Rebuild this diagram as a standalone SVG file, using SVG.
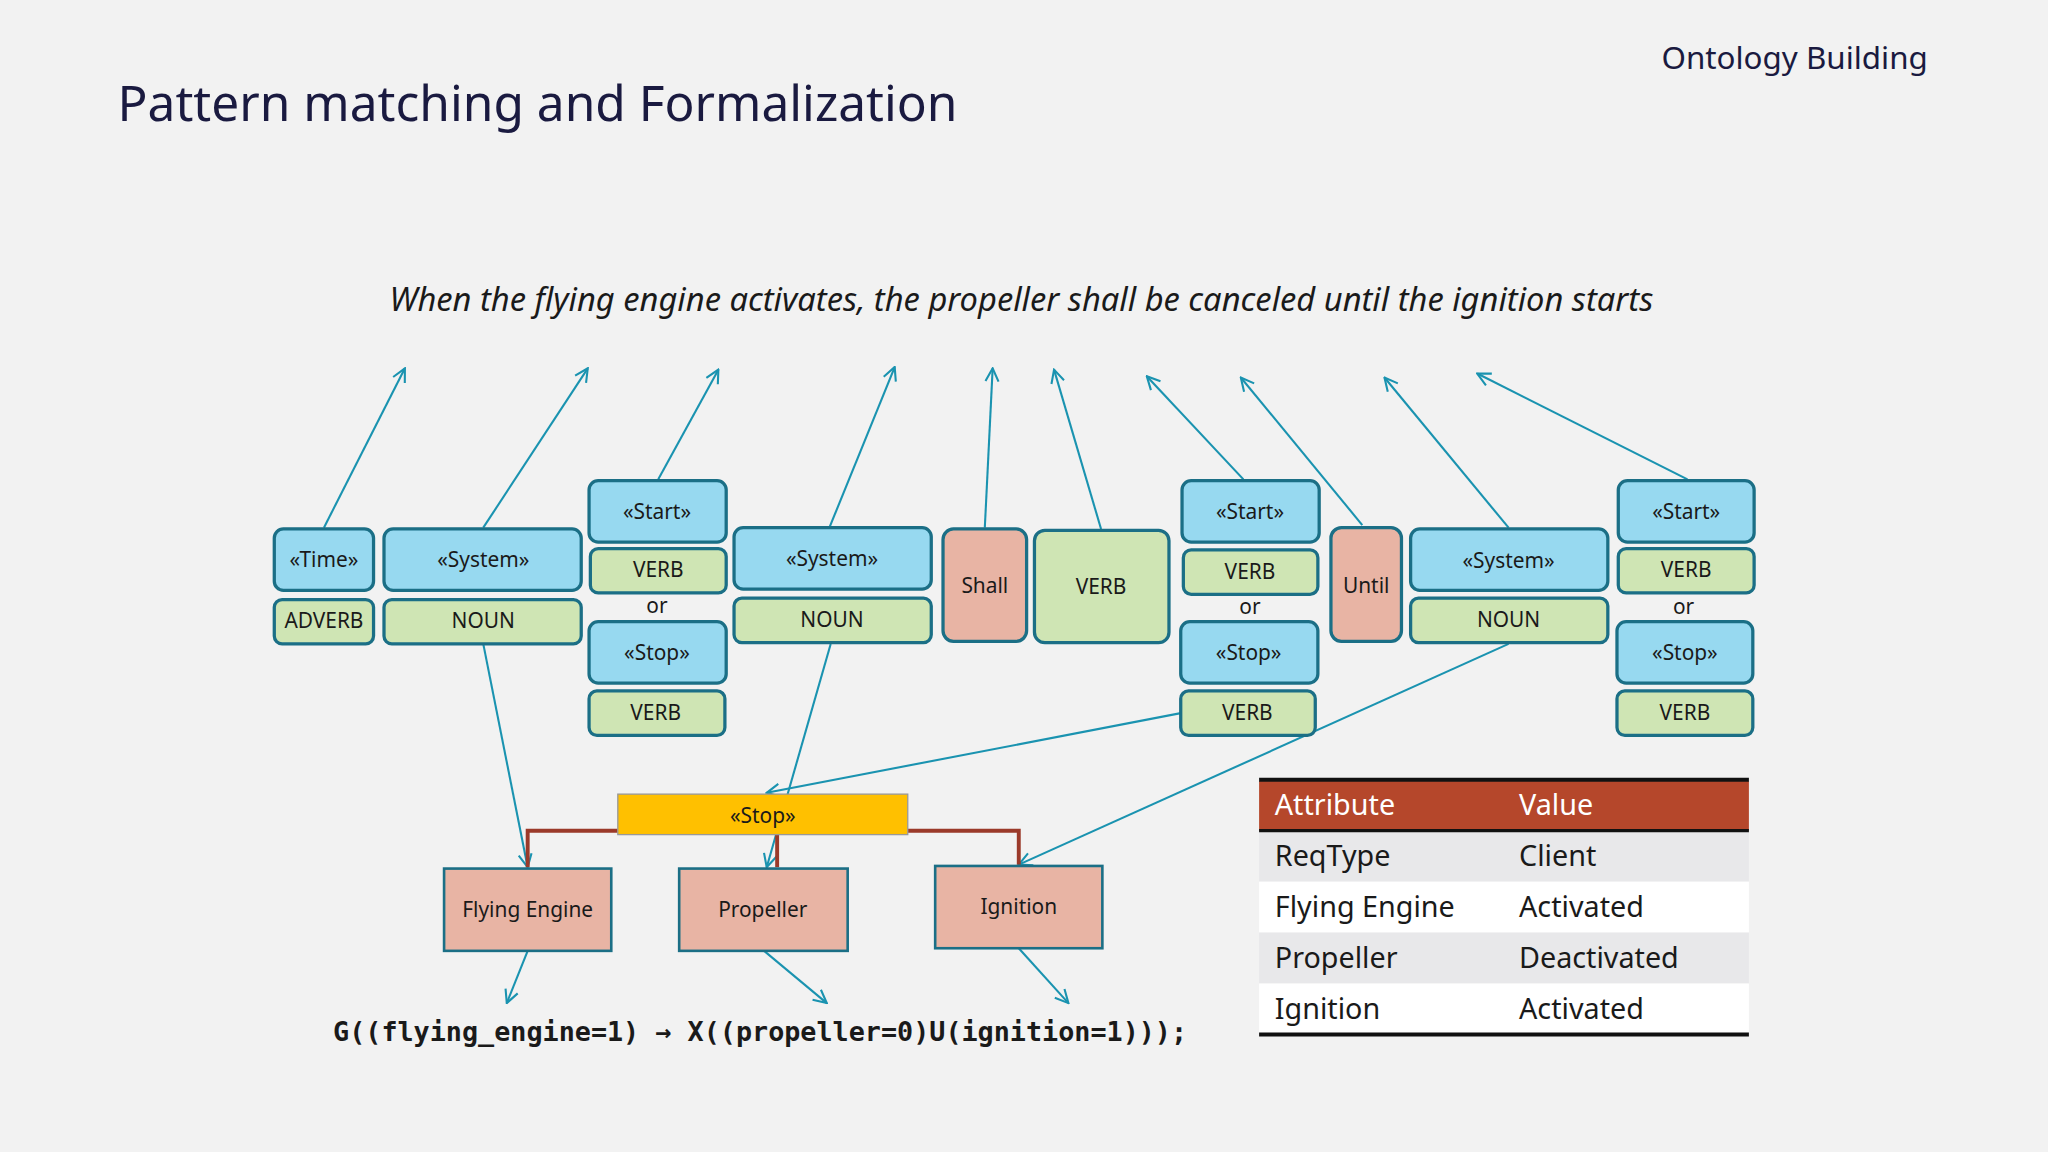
<svg xmlns="http://www.w3.org/2000/svg" width="2048" height="1152" viewBox="0 0 2048 1152">
<style>
text{font-family:"Noto Sans","Open Sans",sans-serif;fill:#1a1a1a}
.b{fill:#97d9f0;stroke:#1b6f86;stroke-width:2.5}
.g{fill:#cfe5b4;stroke:#1b6f86;stroke-width:2.5}
.p{fill:#e8b4a4;stroke:#1b6f86;stroke-width:2.5}
.t{font-size:16px;text-anchor:middle}
.c{stroke:#1a93b0;stroke-width:1.6;fill:none;marker-end:url(#a)}
.br{stroke:#9b3a2a;stroke-width:3;fill:none}
.tb{font-size:22px}
</style>
<defs><marker id="a" viewBox="0 0 12 12" refX="11" refY="6" markerWidth="12" markerHeight="12" markerUnits="userSpaceOnUse" orient="auto"><path d="M1,1 L11,6 L1,11" fill="none" stroke="#1a93b0" stroke-width="1.6"/></marker></defs>
<rect width="2048" height="1152" fill="#f2f2f2"/>
<g transform="scale(1.30612)">
<text x="90" y="93" style="font-size:38px;fill:#1a1a40">Pattern matching and Formalization</text>
<text x="1476" y="53" style="font-size:24px;fill:#1a1a40;text-anchor:end">Ontology Building</text>
<text x="782" y="238" style="font-size:25px;font-style:italic;text-anchor:middle">When the flying engine activates, the propeller shall be canceled until the ignition starts</text>
<g id="connectors">
<line class="c" x1="248" y1="404" x2="310" y2="282"/>
<line class="c" x1="370" y1="404" x2="450" y2="282"/>
<line class="c" x1="504" y1="367" x2="550" y2="283"/>
<line class="c" x1="635" y1="404" x2="685" y2="281"/>
<line class="c" x1="754" y1="404" x2="760" y2="282"/>
<line class="c" x1="843" y1="405" x2="807" y2="283"/>
<line class="c" x1="952" y1="367" x2="878" y2="288"/>
<line class="c" x1="1043" y1="402" x2="950" y2="289"/>
<line class="c" x1="1155" y1="404" x2="1060" y2="289"/>
<line class="c" x1="1292" y1="367" x2="1131" y2="286"/>
<line class="c" x1="370" y1="493" x2="404" y2="664"/>
<line class="c" x1="636" y1="493" x2="587" y2="664"/>
<line class="c" x1="904" y1="546" x2="587" y2="607"/>
<line class="c" x1="1155" y1="493" x2="780" y2="662"/>
<polyline class="br" points="473,636 404,636 404,664"/>
<line class="br" x1="595" y1="639" x2="595" y2="664"/>
<polyline class="br" points="695,636 780,636 780,662"/>
<line class="c" x1="404" y1="728" x2="388" y2="768"/>
<line class="c" x1="585" y1="728" x2="633" y2="768"/>
<line class="c" x1="780" y1="726" x2="818" y2="768"/>
</g>
<g id="time"><rect class="b" x="210" y="405" width="76" height="47" rx="7"/><text class="t" x="248" y="434">«Time»</text></g>
<g id="adverb"><rect class="g" x="210" y="459" width="76" height="34" rx="6"/><text class="t" x="248" y="481">ADVERB</text></g>
<g id="system1"><rect class="b" x="294" y="405" width="151" height="47" rx="7"/><text class="t" x="370" y="434">«System»</text></g>
<g id="noun1"><rect class="g" x="294" y="459" width="151" height="34" rx="6"/><text class="t" x="370" y="481">NOUN</text></g>
<g id="start1"><rect class="b" x="451" y="368" width="105" height="47" rx="7"/><text class="t" x="503" y="397">«Start»</text></g>
<g id="verb1"><rect class="g" x="452" y="420" width="104" height="34" rx="6"/><text class="t" x="504" y="442">VERB</text></g>
<text class="t" x="503" y="469">or</text>
<g id="stop1"><rect class="b" x="451" y="476" width="105" height="47" rx="7"/><text class="t" x="503" y="505">«Stop»</text></g>
<g id="verb2"><rect class="g" x="451" y="529" width="104" height="34" rx="6"/><text class="t" x="502" y="551">VERB</text></g>
<g id="system2"><rect class="b" x="562" y="404" width="151" height="47" rx="7"/><text class="t" x="637" y="433">«System»</text></g>
<g id="noun2"><rect class="g" x="562" y="458" width="151" height="34" rx="6"/><text class="t" x="637" y="480">NOUN</text></g>
<g id="shall"><rect class="p" x="722" y="405" width="64" height="86" rx="8"/><text class="t" x="754" y="454">Shall</text></g>
<g id="verb3"><rect class="g" x="792" y="406" width="103" height="86" rx="8"/><text class="t" x="843" y="455">VERB</text></g>
<g id="start2"><rect class="b" x="905" y="368" width="105" height="47" rx="7"/><text class="t" x="957" y="397">«Start»</text></g>
<g id="verb4"><rect class="g" x="906" y="421" width="103" height="34" rx="6"/><text class="t" x="957" y="443">VERB</text></g>
<text class="t" x="957" y="470">or</text>
<g id="stop2"><rect class="b" x="904" y="476" width="105" height="47" rx="7"/><text class="t" x="956" y="505">«Stop»</text></g>
<g id="verb5"><rect class="g" x="904" y="529" width="103" height="34" rx="6"/><text class="t" x="955" y="551">VERB</text></g>
<g id="until"><rect class="p" x="1019" y="404" width="54" height="87" rx="8"/><text class="t" x="1046" y="454">Until</text></g>
<g id="system3"><rect class="b" x="1080" y="405" width="151" height="47" rx="7"/><text class="t" x="1155" y="435">«System»</text></g>
<g id="noun3"><rect class="g" x="1080" y="458" width="151" height="34" rx="6"/><text class="t" x="1155" y="480">NOUN</text></g>
<g id="start3"><rect class="b" x="1239" y="368" width="104" height="47" rx="7"/><text class="t" x="1291" y="397">«Start»</text></g>
<g id="verb6"><rect class="g" x="1239" y="420" width="104" height="34" rx="6"/><text class="t" x="1291" y="442">VERB</text></g>
<text class="t" x="1289" y="470">or</text>
<g id="stop3"><rect class="b" x="1238" y="476" width="104" height="47" rx="7"/><text class="t" x="1290" y="505">«Stop»</text></g>
<g id="verb7"><rect class="g" x="1238" y="529" width="104" height="34" rx="6"/><text class="t" x="1290" y="551">VERB</text></g>
<g id="stopbar"><rect x="473" y="608" width="222" height="31" fill="#ffc000" stroke="#999" stroke-width="1"/><text class="t" x="584" y="630">«Stop»</text></g>
<g id="flying"><rect x="340" y="665" width="128" height="63" fill="#e8b4a4" stroke="#1b6f86" stroke-width="2"/><text class="t" x="404" y="702">Flying Engine</text></g>
<g id="propeller"><rect x="520" y="665" width="129" height="63" fill="#e8b4a4" stroke="#1b6f86" stroke-width="2"/><text class="t" x="584" y="702">Propeller</text></g>
<g id="ignition"><rect x="716" y="663" width="128" height="63" fill="#e8b4a4" stroke="#1b6f86" stroke-width="2"/><text class="t" x="780" y="700">Ignition</text></g>
<text x="255" y="797" style="font-family:'DejaVu Sans Mono','Liberation Mono',monospace;font-weight:bold;font-size:20.5px">G((flying_engine=1) → X((propeller=0)U(ignition=1)));</text>
<g id="table">
<rect x="964" y="598" width="375" height="38" fill="#b5472b"/>
<rect x="964" y="637" width="375" height="38" fill="#e8e8ea"/>
<rect x="964" y="675" width="375" height="39" fill="#ffffff"/>
<rect x="964" y="714" width="375" height="39" fill="#e8e8ea"/>
<rect x="964" y="753" width="375" height="38" fill="#ffffff"/>
<line x1="964" y1="597" x2="1339" y2="597" stroke="#111" stroke-width="3"/>
<line x1="964" y1="636" x2="1339" y2="636" stroke="#111" stroke-width="2.5"/>
<line x1="964" y1="792" x2="1339" y2="792" stroke="#111" stroke-width="3"/>
<text class="tb" x="976" y="624" style="fill:#fff">Attribute</text><text class="tb" x="1163" y="624" style="fill:#fff">Value</text>
<text class="tb" x="976" y="663">ReqType</text><text class="tb" x="1163" y="663">Client</text>
<text class="tb" x="976" y="702">Flying Engine</text><text class="tb" x="1163" y="702">Activated</text>
<text class="tb" x="976" y="741">Propeller</text><text class="tb" x="1163" y="741">Deactivated</text>
<text class="tb" x="976" y="780">Ignition</text><text class="tb" x="1163" y="780">Activated</text>
</g>
</g>
</svg>
